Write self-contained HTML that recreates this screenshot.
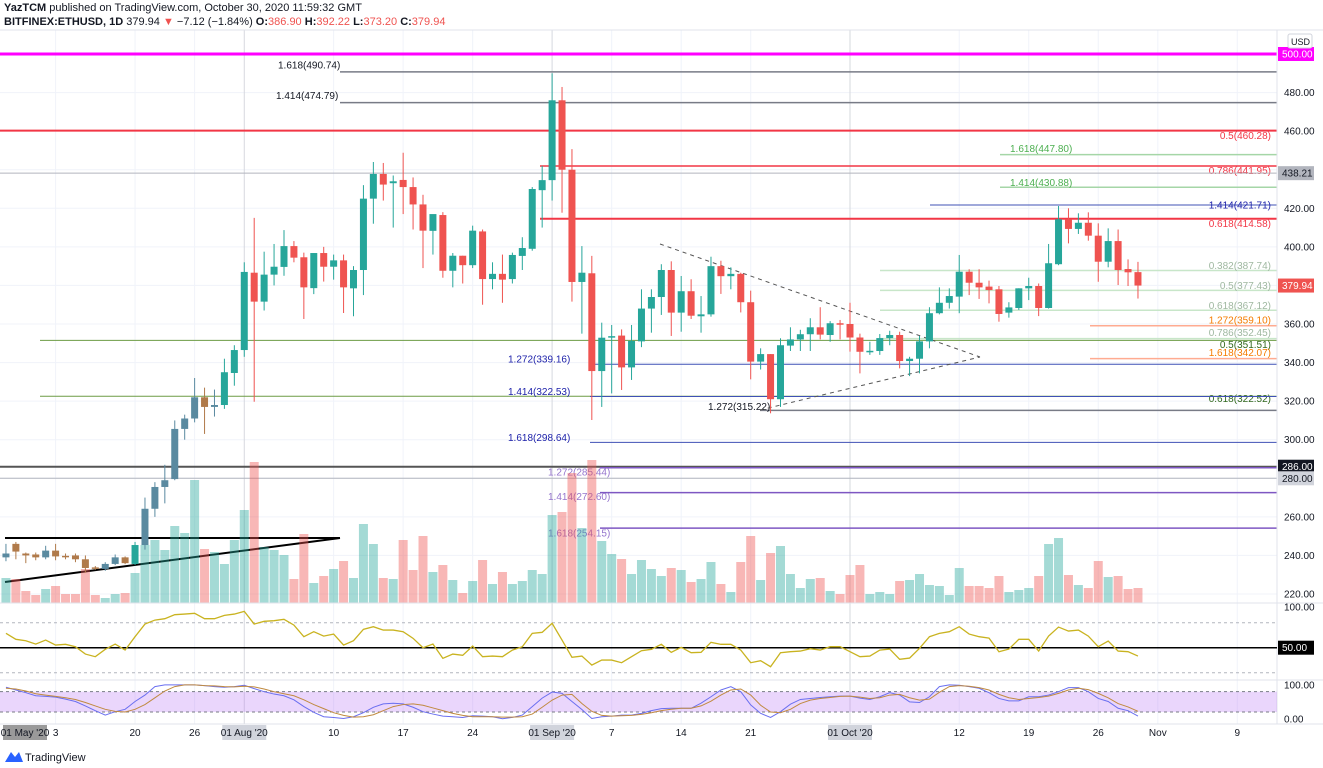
<!DOCTYPE html>
<html><head><meta charset="utf-8"><style>
body{margin:0;background:#fff;width:1323px;height:768px;overflow:hidden;font-family:"Liberation Sans",sans-serif}
#hdr{position:absolute;left:4px;top:1px;font-size:11px;color:#131722;line-height:14px}
#hdr b{font-weight:bold}
.r{color:#ef5350}
</style></head><body>
<div id="hdr">
<div><b>YazTCM</b> published on TradingView.com, October 30, 2020 11:59:32 GMT</div>
<div><b>BITFINEX:ETHUSD, 1D</b> 379.94 <span class="r">▼</span> −7.12 (−1.84%) <b>O:</b><span class="r">386.90</span> <b>H:</b><span class="r">392.22</span> <b>L:</b><span class="r">373.20</span> <b>C:</b><span class="r">379.94</span></div>
</div>
<svg id="chart" width="1323" height="768" style="position:absolute;left:0;top:0" xmlns="http://www.w3.org/2000/svg"></svg>
<script>
// day offsets relative to 01 Oct 2020 (-85 .. 29)
const dayOffsets = Array.from({length:115},(_,i)=>i-85);
const opens=[239,246,241,240.5,239,242.5,239.8,240,238,233.8,233,235.6,239,235.6,245.4,264.2,275.5,279.6,305.6,311,322,317,318,334.6,346.5,386.6,371.6,385.6,389.6,400.4,394.6,378.6,396.8,389.7,393,378.5,388,425,437.8,433,434.7,431,422,408.3,416.5,387.6,395.4,390.5,408,383.3,386,383.3,395.3,399,429.4,434.6,476,440,381.8,386.3,335.6,353,354,337.5,351,368,374,388,365.9,377,364,365,390,384.8,386,371.3,340.5,344.4,321,348.8,352,354.7,358.3,354.3,360.4,360,353,345.6,346,352.7,354.3,340.8,342,351,365.6,371,374.2,387.1,381.4,379.4,378,365.9,368.3,378.5,379.7,368.3,391,414.3,409.3,412.5,405.8,392.3,403,388.5,386.9];
const highs=[246,247,241.5,241.5,245,246,241,241,240,234.5,236.5,240.5,239.5,247,270,278,287,310,313,332,327,326,342,349,392,415,397.5,401.5,408.7,403,397,396.8,400,396,396,390,432,444,443.5,437,448.8,436,427,411,418,396.8,395.4,411,409,392,396,397,405,431,442,490,482.9,450.7,400.4,395.3,360.7,359.5,357.2,359.5,378,378,391,392.5,384.9,383.2,374.5,394.9,392.8,389.4,386.6,377.3,347.4,344.4,352.6,358.3,357,363,368.7,361.5,362.1,371,355,350.8,354.8,356.5,356,343,353.8,368.7,379,378.5,395.8,388.4,388.4,382.5,379.7,371.3,378.5,384,381,401.5,421.2,420,417.4,417.9,412.2,409.6,409,393.5,392.22];
const lows=[237,238,236,237.5,238,237.5,238,236.5,231,232.5,232,235,235.5,235,243,260,267,279,300,309,303,312,316,328,343,319.7,367,380,385,392,362.6,375.5,382,383,365.7,364,375,412,424,410,417,409,389,396,384,379,381,389,370,378,371,381,388,398,410,424,417.7,371.6,355,310.2,317,324,325.8,331,348,355.5,364.7,353.8,356,362.6,355.5,363.8,375.6,378,366,331.3,336.4,313.7,317,346,346,346,352,350.8,352,345.7,334.4,344,344,349,337,333,334.4,347.4,365,368,365.6,375,373,370.7,361.2,363.3,367.3,372.4,364.1,368,390.5,401.8,406.7,403.2,381.9,389.4,380.2,379.7,373.2];
const closes=[241,242,240,239,242.5,239.5,239.4,238,233.5,233.2,235.6,239,236,245.4,264.2,275.5,279,305.6,311,322,317,318,335,346.5,387,371.6,385.6,389.7,400.4,394.4,379,396.8,389.7,393,379,388,425,437.8,432.3,434,431,422,408.4,417,387.6,395.4,390.5,408.4,383.3,386,383,395.8,399.4,430,434.6,476,440,381.8,386.6,335.6,352.9,353.7,337.5,351.2,368,374,388,365.9,377,364.3,365,390,384.8,386,371.3,340.5,344.4,321,349,352,354.7,358.3,354.5,360.4,359.8,353,345.6,346.1,352.7,354.3,340.8,342,351,365.6,371,374.5,387.1,381.4,379,377.6,365.2,368.6,378.5,379.7,368.3,391.5,414.3,409.3,412.5,405.8,392.3,403,388,386.8,379.94];
const volumes=[25,24,12,8,14,17,9,9,34,8,5,9,10,30,58,63,53,77,70,123,54,51,39,63,93,141,56,53,48,24,69,20,27,34,42,25,79,59,25,24,63,33,67,31,38,23,10,22,43,19,31,19,22,33,29,88,91,130,75,143,62,49,44,29,43,34,27,35,33,21,24,41,19,11,41,67,23,50,57,29,15,24,25,12,9,28,38,9,11,9,22,23,29,18,17,8,35,17,17,15,27,11,13,15,27,59,65,28,18,15,42,26,27,14,15];
const rsiValues=[61.5,56.7,55.6,52.9,56.1,52.1,52.7,50.8,44.9,42.8,48.7,52.9,48.1,58.8,68.9,72.1,73.2,76.4,76.9,77.5,73.2,73.2,75.9,76.9,79.1,68.9,71.1,71.6,72.7,68.1,58.8,62.8,59.3,60.9,52.1,55.6,64.7,66.8,64.1,64.1,62.8,57.5,50,52.9,41.5,44.9,43.9,51.3,42.8,43.3,42.8,48.1,50.8,61.5,62.3,69.5,56.1,42.3,43.3,36.1,40.1,40.1,38,42.8,47.6,48.7,52.7,46.3,50.3,46,46.3,54.3,52.7,52.7,48.1,38,39.6,34.8,46,46.8,47.3,49.2,48.1,50.8,50.8,46.8,42.8,43.3,48.1,48.9,40.7,41.7,49.5,58.8,61.5,62.8,66.8,60.9,58.8,57.7,46.8,48.9,56.7,56.7,47.3,59.3,66.5,63.3,64.1,59.3,50.8,55.3,47.3,46.8,43.3];
const stochK=[93,85,77,68,66,64,58,51,38,24,11,21,28,51,70,95,100,100,100,100,98,95,93,95,99,89,80,73,68,56,36,19,6,4,1,6,18,34,44,46,44,34,21,14,8,6,4,9,8,6,0,4,11,36,61,79,75,51,27.5,1,6,8,11,11,16,24,30,31,31,31,46,65,85,94.7,80,41,16,4,21,43,57,60,63,65,67,67,61,57,65,77,70,50,48,65,95,100,99,95,90,77,60,53,53,65,65,70,80,92,92,80,60,51,31,24,8];
const stochD=[90,88,82,74,70,66,62,57,48,38,28,22,20,28,42,62,82,95,100,100,98,97,95,94,96,94,88,80,74,68,56,42,30,18,10,5,6,12,24,36,42,44,40,32,24,16,10,6,6,6,5,5,6,14,34,55,70,72,45,22,10,8,9,10,13,18,24,28,31,31,38,52,70,85,88,70,40,20,18,28,45,55,60,63,66,67,64,60,62,70,72,62,55,58,78,95,98,96,92,85,72,62,57,60,63,67,75,85,90,86,75,62,45,35,22];
const priceTicks=[480,460,420,400,360,340,320,300,260,240,220];
const dateTickLabels=["3","20","26","10","17","24","7","14","21","12","19","26","Nov","9"];
const dateTickDays=[-80,-72,-66,-52,-45,-38,6,13,20,11,18,25,31,39];
const dateTickFix=[0,0,0,0,0,0,-30,-30,-30,0,0,0,0,0];
const monthLabels=["01 May '20","01 Aug '20","01 Sep '20","01 Oct '20"];
const monthDays=[-83,-61,-30,0];

const svg=document.getElementById('chart');
const NS='http://www.w3.org/2000/svg';
const X=d=>850+d*9.93;
const Y=p=>54+(500-p)*1.9286;
const RY=v=>647.7-(v-50)*1.25;
const SY=v=>718.8-v*0.339;
const VY=v=>603-v;
function mk(tag,attrs,parent){const e=document.createElementNS(NS,tag);for(const k in attrs)e.setAttribute(k,attrs[k]);(parent||svg).appendChild(e);return e;}

// grid
const grid=mk('g',{});


for(let p=220;p<=500;p+=20){mk('line',{x1:0,x2:1277,y1:Y(p),y2:Y(p),stroke:'#f0f3fa'},grid);}
dateTickDays.forEach((d,i)=>{const x=X(d+dateTickFix[i]);mk('line',{x1:x,x2:x,y1:30,y2:724,stroke:'#f0f3fa'},grid);});
monthDays.slice(1).forEach(d=>{mk('line',{x1:X(d),x2:X(d),y1:30,y2:724,stroke:'#d6d8de'},grid);});

// level lines: price, x start, colour, width, label, label x (R = right aligned), label colour, label centre offset
const R=1271;
const levels=[
[500,0,'#ff00ff',3,'',0,'',0],[490.74,340,'#787b86',1.5,'1.618(490.74)',278,'#131722',-7],[474.79,340,'#787b86',1.5,'1.414(474.79)',276,'#131722',-7],
[460.28,0,'#f23645',2,'0.5(460.28)',R,'#f23645',5],[447.8,1000,'#a5d6a7',1.5,'1.618(447.80)',1010,'#4caf50',-6],[441.95,540,'#f23645',1.5,'0.786(441.95)',R,'#f23645',4.5],
[438.21,0,'#b2b5be',1,'',0,'',0],[430.88,1000,'#a5d6a7',1.5,'1.414(430.88)',1010,'#4caf50',-5],[421.71,930,'#3f51b5',1,'1.414(421.71)',R,'#1e22aa',0],
[414.58,540,'#f23645',2,'0.618(414.58)',R,'#f23645',5],[387.74,880,'#c8e6c9',1.5,'0.382(387.74)',R,'#9fb8a0',-5],[377.43,880,'#c8e6c9',1.5,'0.5(377.43)',R,'#9fb8a0',-5],
[367.12,880,'#c8e6c9',1.5,'0.618(367.12)',R,'#9fb8a0',-5],[359.1,1090,'#ffab91',1.5,'1.272(359.10)',R,'#f57c00',-5.5],[352.45,880,'#c8e6c9',1.5,'0.786(352.45)',R,'#9fb8a0',-6],
[351.51,40,'#6d9b45',1,'0.5(351.51)',R,'#33691e',4],[342.07,1090,'#ffab91',1.5,'1.618(342.07)',R,'#f57c00',-6],[339.16,590,'#3f51b5',1,'1.272(339.16)',508,'#1e22aa',-5],
[322.53,40,'#6d9b45',1,'0.618(322.52)',R,'#33691e',2],[322.4,590,'#3f51b5',1,'1.414(322.53)',508,'#1e22aa',-5],[315.22,760,'#787b86',1.5,'1.272(315.22)',708,'#131722',-4],
[298.64,590,'#3f51b5',1,'1.618(298.64)',508,'#1e22aa',-5],[286,0,'#555',2,'',0,'',0],[280,0,'#b2b5be',1,'',0,'',0],
[285.44,600,'#7e57c2',1.5,'1.272(285.44)',548,'#9575cd',4],[272.6,600,'#7e57c2',1.5,'1.414(272.60)',548,'#9575cd',4],[254.15,600,'#7e57c2',1.5,'1.618(254.15)',548,'#9575cd',5]];
const lv=mk('g',{});


levels.forEach(L=>{
  const l=mk('line',{x1:L[1],x2:1277,y1:Y(L[0]),y2:Y(L[0]),stroke:L[2],'stroke-width':L[3]},lv);
  
  
  if(L[4]){const t=mk('text',{x:L[5],y:Y(L[0])+L[7]+3.5,'font-size':'10','fill':L[6],'text-anchor':L[5]===R?'end':'start'},lv);t.textContent=L[4];
  
  }
});

// trend drawings
const dr=mk('g',{});


mk('line',{x1:5,y1:538,x2:340,y2:538,stroke:'#000','stroke-width':2},dr);
mk('line',{x1:5,y1:582,x2:340,y2:538,stroke:'#000','stroke-width':2},dr);
mk('line',{x1:660,y1:244,x2:980,y2:357,stroke:'#555','stroke-dasharray':'4,4'},dr);
mk('line',{x1:760,y1:410,x2:980,y2:357,stroke:'#555','stroke-dasharray':'4,4'},dr);

// volume
const vg=mk('g',{});


volumes.forEach((v,i)=>{const up=closes[i]>=opens[i];const x=X(dayOffsets[i]);
  const r=mk('rect',{x:x-4.5,y:VY(v),width:9,height:v,fill:up?'rgba(38,166,154,0.42)':'rgba(239,83,80,0.42)'},vg);
  
  });

// candles
const cg=mk('g',{});


opens.forEach((o,i)=>{const d=dayOffsets[i];const c=closes[i];const up=c>=o;const x=X(d);
  let col=up?'#26a69a':'#ef5350';
  if(d<=-64&&d!==-72){col=up?'#5a8aa0':'#b07a4a';}
  const g=mk('g',{},cg);
  
  
  mk('line',{x1:x,x2:x,y1:Y(highs[i]),y2:Y(lows[i]),stroke:col,'stroke-width':1},g);
  const t=Math.min(Y(o),Y(c));const h=Math.max(1.5,Math.abs(Y(o)-Y(c)));
  mk('rect',{x:x-3.5,y:t,width:7,height:h,fill:col},g);});

// separators
[603,680,724].forEach(y=>mk('line',{x1:0,x2:1323,y1:y,y2:y,stroke:'#e0e3eb'}));
mk('line',{x1:1277,x2:1277,y1:30,y2:724,stroke:'#e0e3eb'});
mk('line',{x1:0,x2:1323,y1:30,y2:30,stroke:'#e0e3eb'});

// RSI
const rg=mk('g',{});


[70,30].forEach(v=>mk('line',{x1:0,x2:1277,y1:RY(v),y2:RY(v),stroke:'#b2b5be','stroke-dasharray':'3,3'},rg));
mk('line',{x1:0,x2:1277,y1:RY(50),y2:RY(50),stroke:'#000','stroke-width':1.5},rg);
const rp=mk('polyline',{points:rsiValues.map((v,i)=>X(dayOffsets[i])+','+RY(v)).join(' '),fill:'none',stroke:'#c9b320','stroke-width':1.3},rg);



// Stoch RSI
const sg=mk('g',{});


mk('rect',{x:0,y:SY(80),width:1277,height:SY(20)-SY(80),fill:'rgba(186,120,245,0.3)'},sg);
[80,20].forEach(v=>mk('line',{x1:0,x2:1277,y1:SY(v),y2:SY(v),stroke:'#787b86','stroke-dasharray':'3,3'},sg));
const kl=mk('polyline',{points:stochK.map((v,i)=>X(dayOffsets[i])+','+SY(v)).join(' '),fill:'none',stroke:'#6a6ff0','stroke-width':1},sg);


const dl=mk('polyline',{points:stochD.map((v,i)=>X(dayOffsets[i])+','+SY(v)).join(' '),fill:'none',stroke:'#c08a40','stroke-width':1},sg);



// price axis
const ax=mk('g',{'font-size':'10',fill:'#131722'});


priceTicks.forEach(p=>{const t=mk('text',{x:1284,y:Y(p)+3.5},ax);t.textContent=p.toFixed(2);
  
  });
const boxes=[[Y(500),'#ff00ff','#fff','500.00'],[Y(438.21),'#b2b5be','#131722','438.21'],[Y(379.94),'#ef5350','#fff','379.94'],[Y(286),'#131722','#fff','286.00'],[Y(280),'#d1d4dc','#131722','280.00'],[RY(50),'#000','#fff','50.00']];
boxes.forEach(b=>{mk('rect',{x:1278,y:b[0]-7,width:36,height:14,fill:b[1]},ax);const t=mk('text',{x:1282,y:b[0]+3.5,fill:b[2]},ax);t.textContent=b[3];
  
  });
[[607,'100.00'],[685,'100.00'],[719,'0.00']].forEach(a=>{const t=mk('text',{x:1284,y:a[0]+3.5},ax);t.textContent=a[1];});
mk('rect',{x:1288,y:34,width:24,height:14,fill:'#fff',stroke:'#d1d4dc',rx:2},ax);
const usd=mk('text',{x:1291,y:45,'font-size':'9'},ax);usd.textContent='USD';

// time axis
const tx=mk('g',{'font-size':'10',fill:'#131722','text-anchor':'middle'});


dateTickLabels.forEach((s,i)=>{const t=mk('text',{x:X(dateTickDays[i]+dateTickFix[i]),y:736},tx);t.textContent=s;
  
  });
monthLabels.forEach((s,i)=>{const x=i===0?25:X(monthDays[i]);mk('rect',{x:x-22,y:725,width:44,height:15,fill:i===0?'#9a9a9a':'#d1d4dc'},tx);
  const t=mk('text',{x:x,y:736},tx);t.textContent=s;
  
  });

// logo
const lg=mk('g',{});


mk('path',{d:'M5 762 L11 752 L15 757 L19 752 L23 762 Z',fill:'#2962ff'},lg);
const lt=mk('text',{x:25,y:761,'font-size':'11',fill:'#131722'},lg);lt.textContent='TradingView';
</script>
</body></html>
